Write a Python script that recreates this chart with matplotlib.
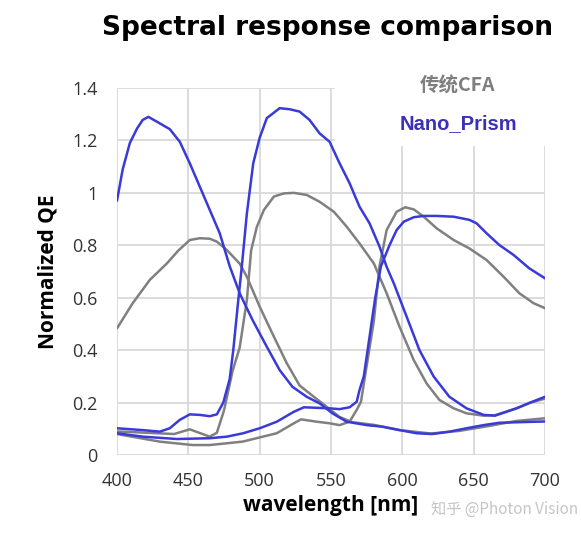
import matplotlib
matplotlib.use("Agg")
import matplotlib.pyplot as plt
from matplotlib.patches import Rectangle

# ---- data ----
cfa_blue_wl = [400, 411, 423, 435, 443, 451, 458, 465, 470, 477, 486, 491, 500, 510, 519, 528, 538, 547, 556, 565, 580, 598, 620, 640, 660, 680, 700]
cfa_blue_qe = [0.483, 0.579, 0.668, 0.731, 0.78, 0.82, 0.827, 0.825, 0.814, 0.782, 0.73, 0.68, 0.566, 0.451, 0.35, 0.265, 0.222, 0.184, 0.145, 0.125, 0.115, 0.095, 0.082, 0.092, 0.11, 0.13, 0.14]

cfa_green_wl = [400, 420, 440, 451, 465, 470, 475, 481, 486, 491, 494, 498, 503, 510, 517, 524, 533, 542, 552, 561, 570, 580, 589, 598, 608, 617, 626, 636, 645, 657, 665, 680, 690, 700]
cfa_green_qe = [0.09, 0.085, 0.08, 0.098, 0.07, 0.085, 0.17, 0.32, 0.41, 0.59, 0.78, 0.87, 0.935, 0.986, 0.998, 1.0, 0.992, 0.966, 0.928, 0.871, 0.807, 0.731, 0.617, 0.49, 0.362, 0.273, 0.21, 0.178, 0.159, 0.15, 0.152, 0.178, 0.2, 0.215]

cfa_red_wl = [400, 430, 453, 465, 488, 512, 524, 529, 540, 549, 556, 563, 568, 571, 575, 580, 584, 589, 596, 602, 608, 615, 624, 636, 647, 659, 671, 682, 692, 700]
cfa_red_qe = [0.08, 0.051, 0.038, 0.038, 0.051, 0.083, 0.121, 0.136, 0.127, 0.121, 0.114, 0.127, 0.172, 0.203, 0.34, 0.51, 0.72, 0.858, 0.928, 0.945, 0.937, 0.909, 0.865, 0.82, 0.788, 0.744, 0.68, 0.617, 0.579, 0.56]

nano_blue_wl = [400, 404, 409, 414, 418, 422, 430, 437, 444, 451, 458, 465, 472, 479, 486, 495, 505, 514, 523, 533, 542, 551, 561, 575, 586, 598, 610, 621, 633, 645, 657, 668, 700]
nano_blue_qe = [0.97, 1.09, 1.19, 1.245, 1.278, 1.29, 1.265, 1.243, 1.195, 1.113, 1.024, 0.935, 0.846, 0.72, 0.617, 0.515, 0.413, 0.324, 0.26, 0.222, 0.197, 0.159, 0.127, 0.114, 0.108, 0.095, 0.083, 0.08, 0.089, 0.102, 0.114, 0.123, 0.128]

nano_green_wl = [400, 418, 430, 437, 444, 451, 458, 465, 470, 474.5, 477, 479, 481.5, 485, 487.5, 491, 495.5, 500, 505, 514, 521, 528, 535, 542, 549, 556, 563, 570, 577, 584, 589, 594, 603, 612, 622, 633, 645, 657, 665, 680, 691, 700]
nano_green_qe = [0.102, 0.095, 0.089, 0.102, 0.134, 0.155, 0.153, 0.148, 0.155, 0.2, 0.25, 0.29, 0.4, 0.59, 0.72, 0.92, 1.113, 1.21, 1.285, 1.323, 1.319, 1.31, 1.278, 1.227, 1.195, 1.113, 1.037, 0.947, 0.884, 0.795, 0.718, 0.655, 0.528, 0.4, 0.299, 0.222, 0.178, 0.153, 0.15, 0.178, 0.203, 0.222]

nano_red_wl = [400, 418, 442, 465, 477, 488.5, 500, 512, 524, 531, 540, 549, 556, 563, 568, 570, 573, 577, 581, 585, 591, 596, 601, 608, 615, 624, 636, 647, 652, 659, 668, 678, 689, 700]
nano_red_qe = [0.083, 0.07, 0.061, 0.064, 0.07, 0.083, 0.102, 0.127, 0.165, 0.182, 0.18, 0.178, 0.175, 0.182, 0.203, 0.248, 0.3, 0.45, 0.6, 0.72, 0.8, 0.858, 0.89, 0.907, 0.912, 0.912, 0.909, 0.897, 0.884, 0.846, 0.801, 0.763, 0.712, 0.674]

x_ticks = [400, 450, 500, 550, 600, 650, 700]
y_ticks = [0, 0.2, 0.4, 0.6, 0.8, 1.0, 1.2, 1.4]
y_tick_labels = ["0", "0.2", "0.4", "0.6", "0.8", "1", "1.2", "1.4"]

title = "Spectral response comparison"
x_label = "wavelength [nm]"
y_label = "Normalized QE"
legend_cfa = "传统CFA"
legend_nano = "Nano_Prism"
watermark = "知乎 @Photon Vision"

# ---- styling ----
GRAY = "#808080"
BLUE = "#3a3ad8"
GRID = "#d9d9d9"

fig = plt.figure(figsize=(5.81, 5.34), dpi=100)
ax = fig.add_axes([117 / 581, 79 / 534, 428 / 581, 367 / 534])

ax.set_xlim(400, 700)
ax.set_ylim(0, 1.4)
for s in ax.spines.values():
    s.set_visible(False)
ax.set_xticks(x_ticks)
ax.set_yticks(y_ticks)
ax.set_yticklabels(y_tick_labels)
ax.tick_params(length=0, labelsize=13, labelcolor="#333333", pad=14)
ax.tick_params(axis="x", pad=12)
for lbl in ax.get_xticklabels() + ax.get_yticklabels():
    lbl.set_fontfamily(["Open Sans", "DejaVu Sans"])
ax.grid(True, color=GRID, linewidth=1.3, zorder=0)
ax.set_axisbelow(True)

# white box behind the legend text (covers grid)
ax.add_patch(Rectangle((553, 1.178), 160, 0.3, facecolor="white", edgecolor="none",
                       zorder=1, clip_on=False))

lw = 1.8
for wl, qe in [(cfa_blue_wl, cfa_blue_qe), (cfa_green_wl, cfa_green_qe), (cfa_red_wl, cfa_red_qe)]:
    ax.plot(wl, qe, color=GRAY, lw=lw, zorder=3, solid_capstyle="round", solid_joinstyle="round")
for wl, qe in [(nano_blue_wl, nano_blue_qe), (nano_green_wl, nano_green_qe), (nano_red_wl, nano_red_qe)]:
    ax.plot(wl, qe, color=BLUE, lw=lw, zorder=4, solid_capstyle="round", solid_joinstyle="round")

ax.set_xlabel(x_label, fontsize=15, fontweight="bold", family=["Open Sans", "DejaVu Sans"], labelpad=4)
ax.set_ylabel(y_label, fontsize=15, fontweight="bold", family=["Open Sans", "DejaVu Sans"], labelpad=10)

fig.text(458 / 581, 1 - 86 / 534, legend_cfa, ha="center", va="center", fontsize=14,
         fontweight="bold", color="#7f7f7f", family=["Noto Sans CJK SC", "DejaVu Sans"])
fig.text(458 / 581, 1 - 124 / 534, legend_nano, ha="center", va="center", fontsize=14.5,
         fontweight="bold", color="#3b30b8", family=["Liberation Sans", "DejaVu Sans"])

fig.text(328 / 581, 1 - 28 / 534, title, ha="center", va="center", fontsize=19,
         fontweight="bold", color="black", family=["DejaVu Sans"])

fig.text(578 / 581, 1 - 509 / 534, watermark, ha="right", va="center", fontsize=11,
         color="#bbbbbb", alpha=0.85, family=["Noto Sans CJK SC", "DejaVu Sans"], zorder=10)

fig.savefig("out.png", dpi=100, facecolor="white")
